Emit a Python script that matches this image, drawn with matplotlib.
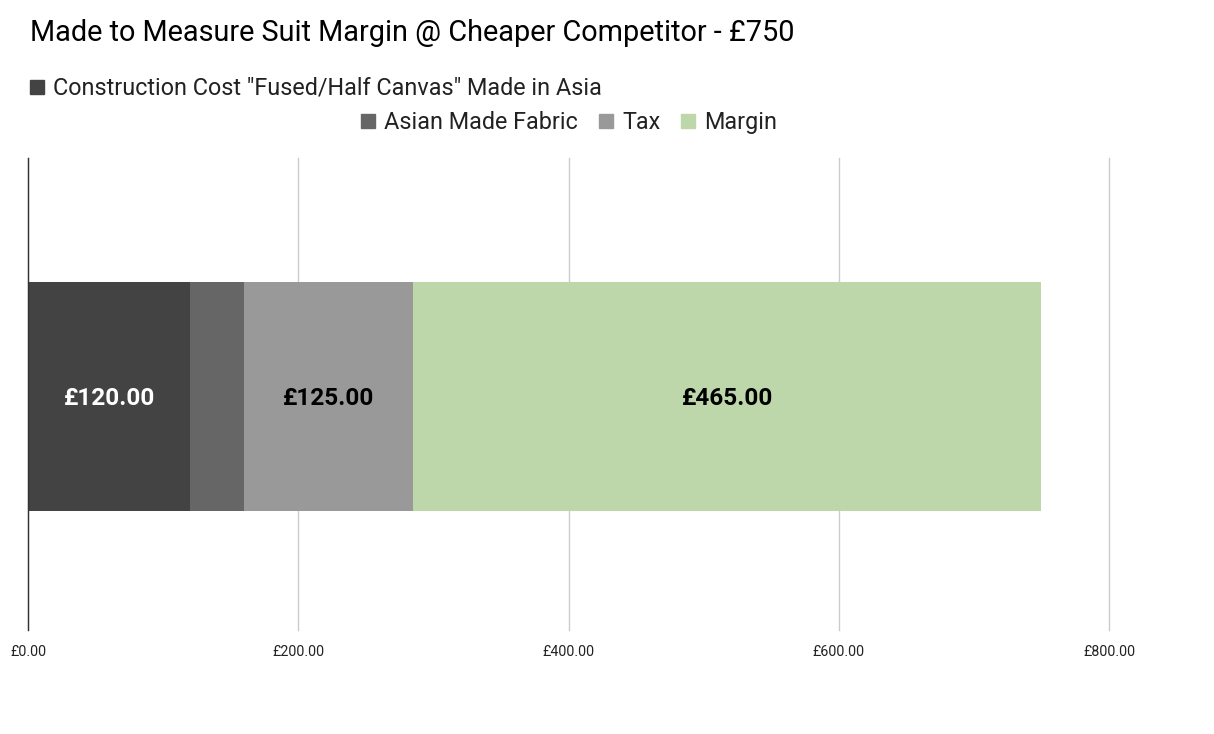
import matplotlib
matplotlib.use("Agg")
import matplotlib.pyplot as plt
from matplotlib.patches import Rectangle

plt.rcParams['font.family'] = ['Roboto', 'DejaVu Sans']

title = "Made to Measure Suit Margin @ Cheaper Competitor - £750"
series = ['Construction Cost "Fused/Half Canvas" Made in Asia',
          'Asian Made Fabric', 'Tax', 'Margin']
values = [120, 40, 125, 465]
colors = ['#434343', '#666666', '#999999', '#bdd7ab']
label_colors = ['white', None, 'black', 'black']
xticks = [0, 200, 400, 600, 800]
xticklabels = ['£0.00', '£200.00', '£400.00', '£600.00', '£800.00']

W, H = 1214, 734
fig = plt.figure(figsize=(W / 100, H / 100), dpi=100)
ax = fig.add_axes([28 / W, 1 - 630 / H, (1109 - 28) / W, (630 - 158) / H])

left = 0
for v, c, lc in zip(values, colors, label_colors):
    ax.barh(-0.005, v, left=left, height=0.485, color=c, zorder=3)
    if lc is not None:
        ax.text(left + v / 2, -0.01, f"£{v:.2f}", ha='center', va='center',
                color=lc, fontsize=17.6, fontweight='bold', zorder=4)
    left += v

ax.set_xlim(0, 800)
ax.set_ylim(-0.5, 0.5)
ax.set_yticks([])
ax.set_xticks(xticks)
ax.set_xticklabels(xticklabels, fontsize=10.3, color='#222222')
ax.tick_params(axis='x', length=0, pad=11)
ax.grid(axis='x', color='#cccccc', linewidth=1, zorder=0)
for gl in ax.get_xgridlines():
    gl.set_clip_on(False)
for s in ['top', 'right', 'bottom']:
    ax.spines[s].set_visible(False)
ax.spines['left'].set_color('#333333')
ax.spines['left'].set_linewidth(1)
ax.spines['left'].set_zorder(5)

fig.text(30 / W, 1 - 33 / H, title, fontsize=20.8, ha='left', va='center', color='#000000')

# legend
def leg(xs, yc, label, color):
    sq = 14
    fig.patches.append(Rectangle((xs / W, 1 - (yc + sq / 2) / H), sq / W, sq / H,
                                 transform=fig.transFigure, color=color))
    fig.text((xs + 23) / W, 1 - (yc - 1) / H, label, fontsize=16.8, ha='left',
             va='center_baseline', color='#222222')

leg(30, 87, series[0], colors[0])
leg(361, 121, series[1], colors[1])
leg(599, 121, series[2], colors[2])
leg(681, 121, series[3], colors[3])

fig.savefig("out.png", dpi=100, facecolor='white')
